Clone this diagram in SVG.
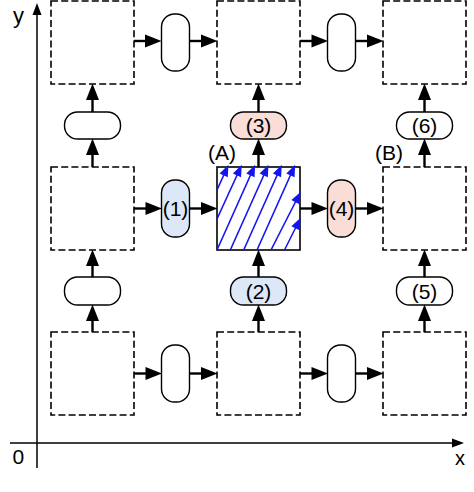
<svg xmlns="http://www.w3.org/2000/svg" width="474" height="492" viewBox="0 0 474 492">
<defs>
<style>
.box{fill:#fff;stroke:#000;stroke-width:1.6;stroke-dasharray:7 3.2}
.abox{fill:#fff;stroke:#000;stroke-width:1.6}
.pill{fill:#fff;stroke:#000;stroke-width:1.4}
.blue{fill:#dce8f8}
.pink{fill:#f9ddd6}
.lbl{font-family:"Liberation Sans",Arial,sans-serif;font-size:21px;fill:#000}
.big{font-family:"Liberation Sans",Arial,sans-serif;font-size:21px;fill:#000}
.arr{stroke:#000;stroke-width:2.4;fill:none;marker-end:url(#ah)}
.axis{stroke:#000;stroke-width:1.5;fill:none}
.hatch{stroke:#1414f0;stroke-width:1.6;fill:none;marker-end:url(#bh)}
</style>
<marker id="ah" markerUnits="userSpaceOnUse" markerWidth="17" markerHeight="14" refX="12" refY="6.5" orient="auto" overflow="visible">
<path d="M0,0 L16.5,6.5 L0,13 z" fill="#000"/>
</marker>
<marker id="axh" markerUnits="userSpaceOnUse" markerWidth="13" markerHeight="10" refX="9" refY="4.5" orient="auto" overflow="visible">
<path d="M0,0 L12,4.5 L0,9 z" fill="#000"/>
</marker>
<marker id="bh" markerUnits="userSpaceOnUse" markerWidth="12" markerHeight="10" refX="8" refY="4.5" orient="auto" overflow="visible">
<path d="M0,0 L11.5,4.5 L0,9 z" fill="#1414f0"/>
</marker>
</defs>

<g id="axes">
<line class="axis" x1="37" y1="468" x2="37" y2="6" marker-end="url(#axh)"/>
<line class="axis" x1="10" y1="443" x2="461" y2="443" marker-end="url(#axh)"/>
<text class="big" x="13" y="23" style="font-size:22px">y</text>
<text class="big" x="12.5" y="464">0</text>
<text class="big" x="455" y="465" style="font-size:20px">x</text>
</g>

<g id="box-r1c1"><rect class="box" x="51" y="1" width="83" height="83"/></g>
<g id="box-r1c2"><rect class="box" x="217" y="1" width="83" height="83"/></g>
<g id="box-r1c3"><rect class="box" x="383" y="1" width="83" height="83"/></g>
<g id="box-r2c1"><rect class="box" x="51" y="167" width="83" height="83"/></g>
<g id="box-B"><rect class="box" x="383" y="167" width="83" height="83"/><text class="big" x="375" y="160">(B)</text></g>
<g id="box-r3c1"><rect class="box" x="51" y="332" width="83" height="83"/></g>
<g id="box-r3c2"><rect class="box" x="217" y="332" width="83" height="83"/></g>
<g id="box-r3c3"><rect class="box" x="383" y="332" width="83" height="83"/></g>

<g id="box-A">
<rect class="abox" x="217" y="167" width="83" height="83"/>
<g>
<line class="hatch" x1="217" y1="190" x2="227" y2="168"/>
<line class="hatch" x1="217" y1="219" x2="240.3" y2="168"/>
<line class="hatch" x1="217" y1="250" x2="253.7" y2="168"/>
<line class="hatch" x1="230.3" y1="250" x2="267" y2="168"/>
<line class="hatch" x1="243.7" y1="250" x2="280.3" y2="168"/>
<line class="hatch" x1="257" y1="250" x2="293.7" y2="168"/>
<line class="hatch" x1="271" y1="250" x2="299" y2="195"/>
<line class="hatch" x1="284.5" y1="250" x2="299" y2="221"/>
</g>
<text class="big" x="208" y="160">(A)</text>
</g>

<g id="pill-r1a"><rect class="pill" x="161.5" y="14" width="28" height="57" rx="13"/></g>
<g id="pill-r1b"><rect class="pill" x="327.5" y="14" width="28" height="57" rx="13"/></g>
<g id="pill-1"><rect class="pill blue" x="161.5" y="180" width="28" height="57" rx="13"/><text class="lbl" x="175.5" y="216" text-anchor="middle">(1)</text></g>
<g id="pill-4"><rect class="pill pink" x="327.5" y="180" width="28" height="57" rx="13"/><text class="lbl" x="341.5" y="216" text-anchor="middle">(4)</text></g>
<g id="pill-r3a"><rect class="pill" x="161.5" y="345" width="28" height="57" rx="13"/></g>
<g id="pill-r3b"><rect class="pill" x="327.5" y="345" width="28" height="57" rx="13"/></g>

<g id="pill-c1top"><rect class="pill" x="64.5" y="112" width="56" height="27" rx="13"/></g>
<g id="pill-3"><rect class="pill pink" x="230.5" y="112" width="56" height="27" rx="13"/><text class="lbl" x="258.5" y="133" text-anchor="middle">(3)</text></g>
<g id="pill-6"><rect class="pill" x="396.5" y="112" width="56" height="27" rx="13"/><text class="lbl" x="424.5" y="133" text-anchor="middle">(6)</text></g>
<g id="pill-c1bot"><rect class="pill" x="64.5" y="277" width="56" height="28" rx="13"/></g>
<g id="pill-2"><rect class="pill blue" x="230.5" y="277" width="56" height="28" rx="13"/><text class="lbl" x="258.5" y="298.5" text-anchor="middle">(2)</text></g>
<g id="pill-5"><rect class="pill" x="396.5" y="277" width="56" height="28" rx="13"/><text class="lbl" x="424.5" y="298.5" text-anchor="middle">(5)</text></g>

<g id="connectors">
<line class="arr" x1="134" y1="41" x2="157" y2="41"/>
<line class="arr" x1="189.5" y1="41" x2="213" y2="41"/>
<line class="arr" x1="300" y1="41" x2="323.5" y2="41"/>
<line class="arr" x1="355.5" y1="41" x2="379" y2="41"/>
<line class="arr" x1="134" y1="208.5" x2="157.5" y2="208.5"/>
<line class="arr" x1="189.5" y1="208.5" x2="213" y2="208.5"/>
<line class="arr" x1="300" y1="208.5" x2="323.5" y2="208.5"/>
<line class="arr" x1="355.5" y1="208.5" x2="379" y2="208.5"/>
<line class="arr" x1="134" y1="373.5" x2="157.5" y2="373.5"/>
<line class="arr" x1="189.5" y1="373.5" x2="213" y2="373.5"/>
<line class="arr" x1="300" y1="373.5" x2="323.5" y2="373.5"/>
<line class="arr" x1="355.5" y1="373.5" x2="379" y2="373.5"/>
<line class="arr" x1="92.5" y1="167" x2="92.5" y2="143"/>
<line class="arr" x1="92.5" y1="112" x2="92.5" y2="88"/>
<line class="arr" x1="258.5" y1="167" x2="258.5" y2="143"/>
<line class="arr" x1="258.5" y1="112" x2="258.5" y2="88"/>
<line class="arr" x1="424.5" y1="167" x2="424.5" y2="143"/>
<line class="arr" x1="424.5" y1="112" x2="424.5" y2="88"/>
<line class="arr" x1="92.5" y1="332" x2="92.5" y2="309"/>
<line class="arr" x1="92.5" y1="277" x2="92.5" y2="254"/>
<line class="arr" x1="258.5" y1="332" x2="258.5" y2="309"/>
<line class="arr" x1="258.5" y1="277" x2="258.5" y2="254"/>
<line class="arr" x1="424.5" y1="332" x2="424.5" y2="309"/>
<line class="arr" x1="424.5" y1="277" x2="424.5" y2="254"/>
</g>
</svg>
